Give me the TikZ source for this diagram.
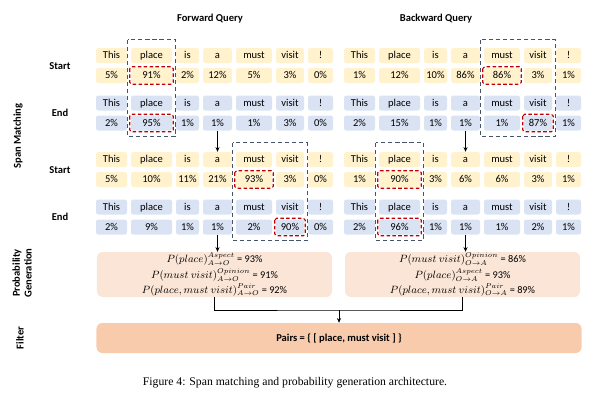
\documentclass[tikz,border=0pt]{standalone}
\usepackage{fontspec}
\setmainfont{Carlito}
\newfontfamily\capfont{Liberation Serif}
\usetikzlibrary{arrows.meta,calc}
\definecolor{startfill}{RGB}{255,242,204}
\definecolor{endfill}{RGB}{218,227,243}
\definecolor{probfill}{RGB}{251,229,214}
\definecolor{filterfill}{RGB}{248,203,173}
\definecolor{selblue}{RGB}{68,84,106}
\definecolor{hitred}{RGB}{192,0,0}

\tikzset{
  cell/.style={rounded corners=2pt, minimum height=0.45cm, inner sep=0pt,
    text height=1.5ex, text depth=0.3ex, font=\fontsize{9}{10}\selectfont},
  startcell/.style={cell, fill=startfill},
  endcell/.style={cell, fill=endfill},
  selbox/.style={selblue, line width=0.9pt, dash pattern=on 3.5pt off 2.5pt},
  hitbox/.style={hitred, line width=0.9pt, dash pattern=on 3pt off 2pt, rounded corners=1.5pt},
  rowlabel/.style={font=\bfseries\fontsize{9}{10}\selectfont},
  steplabel/.style={font=\bfseries\fontsize{9}{10}\selectfont, rotate=90, align=center},
  probbox/.style={fill=probfill, rounded corners=5pt, minimum width=7.05cm,
    minimum height=1.35cm, align=center, inner sep=0pt, font=\fontsize{8.8}{13}\selectfont},
  flow/.style={-{Stealth[length=4pt,width=3.5pt]}, line width=0.6pt},
}

% one block of start/end rows: prefix, left x, top y, start %, end %
\newcommand{\spangroup}[5]{%
  \foreach \tok/\off/\cw [count=\i] in {This/0/31, place/35/41, is/80/23, a/107/29, must/140/36, visit/180/28, !/212/25}{
    \pgfmathtruncatemacro\ps{{#4}[\i-1]}
    \pgfmathtruncatemacro\pe{{#5}[\i-1]}
    \pgfmathsetmacro\cx{#2+\off+\cw/2}
    \node[startcell, minimum width=\cw*0.03cm] (#1s\i) at (\cx,#3+7.5) {\tok};
    \node[startcell, minimum width=\cw*0.03cm] (#1sp\i) at (\cx,#3+27.5) {\ps\%};
    \node[endcell, minimum width=\cw*0.03cm] (#1e\i) at (\cx,#3+55) {\tok};
    \node[endcell, minimum width=\cw*0.03cm] (#1ep\i) at (\cx,#3+75) {\pe\%};
  }%
}

\begin{document}
\begin{tikzpicture}[x=0.03cm,y=-0.03cm,>=Stealth]
  \useasboundingbox (0,0) rectangle (600,392);

  % headings
  \node[rowlabel] (fwd) at (210,19) {Forward Query};
  \node[rowlabel] (bwd) at (436,19) {Backward Query};

  \node[steplabel] (spanlbl) at (18,136) {Span Matching};
  \node[steplabel] (problbl) at (22,273) {Probability\\Generation};
  \node[steplabel] (filtlbl) at (20,338) {Filter};

  \node[rowlabel] (st1) at (60,66) {Start};
  \node[rowlabel] (en1) at (60,113) {End};
  \node[rowlabel] (st2) at (60,170) {Start};
  \node[rowlabel] (en2) at (60,217) {End};

  % span matching tables
  \spangroup{L1}{96}{48}{5,91,2,12,5,3,0}{2,95,1,1,1,3,0}
  \spangroup{R1}{344}{48}{1,12,10,86,86,3,1}{2,15,1,1,1,87,1}
  \spangroup{L2}{96}{152}{5,10,11,21,93,3,0}{2,9,1,1,2,90,0}
  \spangroup{R2}{344}{152}{1,90,3,6,6,3,1}{2,96,1,1,1,2,1}

  % selected spans
  \draw[selbox] ($(L1s2.north west)+(-3,-8)$) rectangle ($(L1ep2.south east)+(3,6)$);
  \draw[selbox] ($(R1s5.north west)+(-3,-8)$) rectangle ($(R1ep6.south east)+(3,6)$);
  \draw[selbox] ($(L2s5.north west)+(-3,-9)$) rectangle ($(L2ep6.south east)+(3,6)$);
  \draw[selbox] ($(R2s2.north west)+(-3,-9)$) rectangle ($(R2ep2.south east)+(3,6)$);
  \foreach \n in {L1sp2,L1ep2,R1sp5,R1ep6,L2sp5,L2ep6,R2sp2,R2ep2}
    \draw[hitbox] ($(\n.north west)+(-1,-1)$) rectangle ($(\n.south east)+(1,1)$);

  % probability generation
  \node[probbox] (lprob) at (214.5,274.5) {%
    $P(place)^{Aspect}_{A\to O}$ = 93\%\\
    $P(must\ visit)^{Opinion}_{A\to O}$ = 91\%\\
    $P(place, must\ visit)^{Pair}_{A\to O}$ = 92\%};
  \node[probbox] (rprob) at (462.5,274.5) {%
    $P(must\ visit)^{Opinion}_{O\to A}$ = 86\%\\
    $P(place)^{Aspect}_{O\to A}$ = 93\%\\
    $P(place, must\ visit)^{Pair}_{O\to A}$ = 89\%};

  % filter
  \node[probbox, fill=filterfill, minimum width=14.55cm, minimum height=0.9cm,
    font=\bfseries\fontsize{9}{10}\selectfont] (filter) at (339,338)
    {Pairs = \{ [ place, must visit ] \}};

  % connectors
  \draw[flow] (L1ep4) -- (L2s4);
  \draw[flow] (R1ep4) -- (R2s4);
  \draw[flow] (L2ep4) -- (L2ep4 |- lprob.north);
  \draw[flow] (R2ep4) -- (R2ep4 |- rprob.north);
  \coordinate (join) at (339,310);
  \draw[line width=0.6pt] (lprob.south) |- (join) -| (rprob.south);
  \draw[flow] (join) -- (filter.north);

  \node[font=\capfont\fontsize{10}{12}\selectfont] (caption) at (295,383)
    {Figure 4: Span matching and probability generation architecture.};
\end{tikzpicture}
\end{document}
